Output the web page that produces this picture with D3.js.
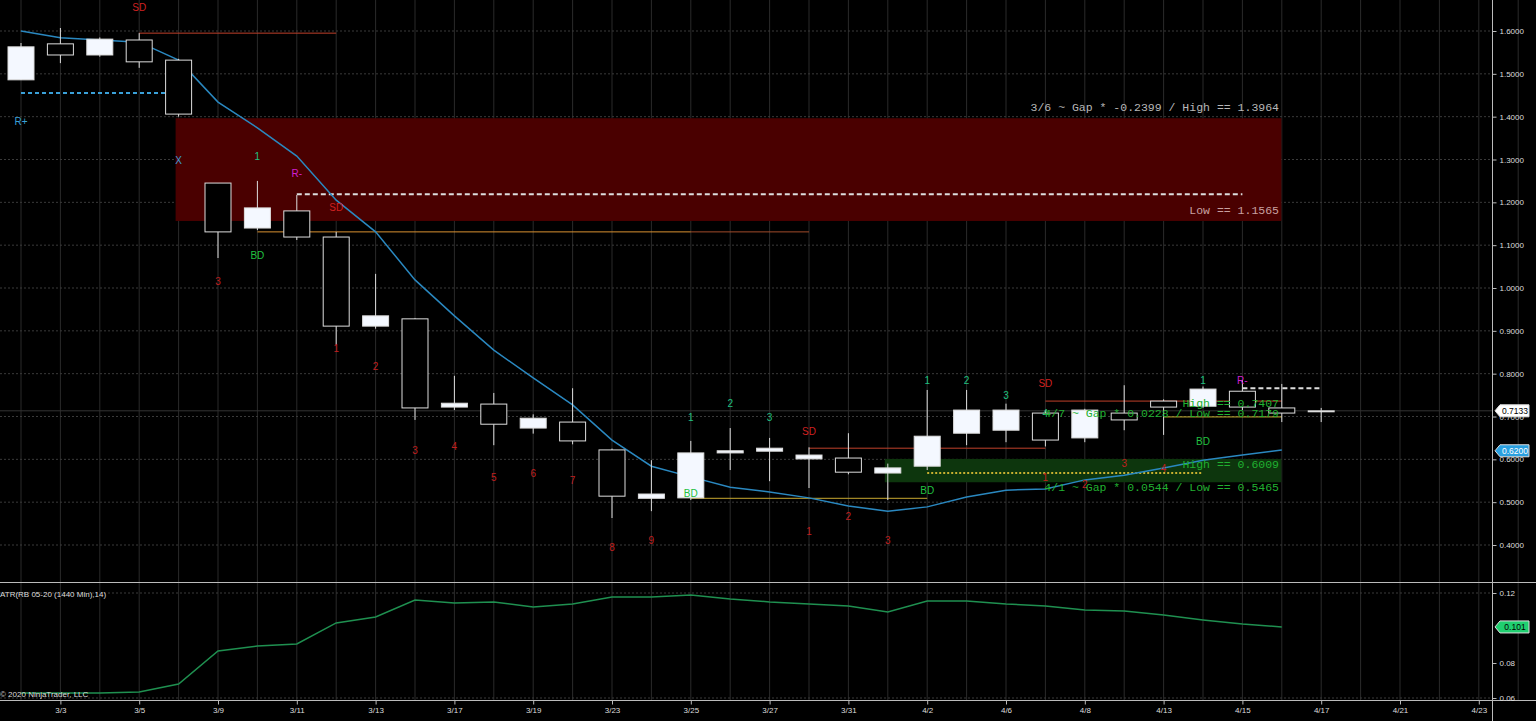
<!DOCTYPE html>
<html>
<head>
<meta charset="utf-8">
<script src="https://cdn.jsdelivr.net/npm/d3@7"></script>
<style>
body{margin:0;background:#000;overflow:hidden}
text{font-family:"Liberation Sans",Arial,sans-serif}
.mono{font-family:"Liberation Mono","DejaVu Sans Mono",monospace}
</style>
</head>
<body>
<div id="chart-area"></div>
<script>
// sessions
var dates = ["3/2","3/3","3/4","3/5","3/6","3/9","3/10","3/11","3/12","3/13","3/16","3/17","3/18","3/19","3/20",
  "3/23","3/24","3/25","3/26","3/27","3/30","3/31","4/1","4/2","4/3","4/6","4/7","4/8","4/9","4/13","4/14","4/15","4/16","4/17",
  "4/20","4/21","4/22","4/23","4/24"];
var opens  = [1.486,1.570,1.544,1.579,1.532,1.245,1.140,1.180,1.119,0.911,0.928,0.722,0.729,0.673,0.687,0.622,0.509,0.510,0.615,0.619,0.601,0.603,0.568,0.584,0.661,0.668,0.708,0.650,0.708,0.736,0.724,0.759,0.720,0.7133];
var closes = [1.563,1.544,1.581,1.528,1.406,1.131,1.187,1.119,0.911,0.935,0.720,0.731,0.682,0.696,0.643,0.514,0.519,0.615,0.620,0.626,0.610,0.570,0.580,0.654,0.715,0.715,0.645,0.715,0.692,0.722,0.764,0.722,0.708,0.7133];
var highs  = [1.572,1.607,1.585,1.595,1.535,1.245,1.250,1.217,1.131,1.033,0.930,0.795,0.755,0.705,0.766,0.625,0.598,0.643,0.673,0.650,0.628,0.661,0.590,0.762,0.762,0.730,0.715,0.718,0.773,0.740,0.770,0.785,0.776,0.720];
var lows   = [1.486,1.525,1.540,1.514,1.400,1.070,1.135,1.112,0.867,0.905,0.692,0.715,0.633,0.660,0.635,0.463,0.479,0.505,0.575,0.549,0.533,0.565,0.505,0.575,0.633,0.640,0.630,0.640,0.668,0.657,0.720,0.715,0.687,0.687];
var maVals = [1.600,1.584,1.579,1.574,1.532,1.434,1.374,1.308,1.205,1.131,1.019,0.935,0.855,0.790,0.727,0.645,0.584,0.559,0.535,0.524,0.510,0.491,0.479,0.489,0.512,0.528,0.531,0.552,0.563,0.580,0.598,0.610,0.622];
var atrVals = [0.0629,0.0629,0.0629,0.0634,0.068,0.0869,0.0897,0.0909,0.1029,0.1063,0.116,0.1143,0.1149,0.112,0.1137,0.1177,0.1177,0.1189,0.1166,0.1149,0.1137,0.1126,0.1091,0.1154,0.1154,0.1137,0.1126,0.1103,0.1097,0.1074,0.1046,0.1023,0.1006];
var priceTicks = [1.6,1.5,1.4,1.3,1.2,1.1,1.0,0.9,0.8,0.7,0.6,0.5,0.4];
var atrTicks = [0.12,0.08,0.06];
var dateTicks = ["3/3","3/5","3/9","3/11","3/13","3/17","3/19","3/23","3/25","3/27","3/31","4/2","4/6","4/8","4/13","4/15","4/17","4/21","4/23"];
// zones: [from, to, high, low, fill]
var zones = [["3/6","4/15",1.3964,1.1565,"#4a0000"],["4/1","4/15",0.6009,0.5465,"#0d360d"]];
// level lines: [from, to, price, color, dash]
var levels = [
  ["3/5","3/12",1.595,"#c0402a",null],
  ["3/2","3/6",1.455,"#3aa0d8","4,3"],
  ["3/11","4/15",1.219,"#dddddd","5,3"],
  ["3/10","3/25",1.131,"#d89030",null],
  ["3/25","3/30",1.131,"#a04a2a",null],
  ["3/30","4/7",0.626,"#c0402a",null],
  ["3/25","4/2",0.509,"#c8a830",null],
  ["4/2","4/14",0.568,"#c8b030","2,2"],
  ["4/7","4/16",0.736,"#c0402a",null],
  ["4/13","4/16",0.699,"#c8b030",null],
  ["4/15","4/17",0.766,"#dddddd","5,3"]];
// signal labels: [date, price, text, color]
var marks = [
  ["3/5",1.647,"SD","#d02020"],["3/12",1.180,"SD","#d02020"],["3/30",0.657,"SD","#d02020"],["4/7",0.768,"SD","#d02020"],
  ["3/2",1.380,"R+","#3aa0d8"],["3/6",1.290,"X","#3aa0d8"],["3/11",1.260,"R-","#d020d0"],["4/15",0.777,"R-","#d020d0"],
  ["3/10",1.067,"BD","#20c040"],["3/25",0.5125,"BD","#20c040"],["4/2",0.5185,"BD","#20c040"],["4/14",0.633,"BD","#20c040"],
  ["3/10",1.300,"1","#20c080"],["3/25",0.6895,"1","#20c080"],["3/26",0.722,"2","#20c080"],["3/27",0.6895,"3","#20c080"],
  ["4/2",0.7755,"1","#20c080"],["4/3",0.7755,"2","#20c080"],["4/6",0.7405,"3","#20c080"],["4/14",0.7765,"1","#20c080"],["4/7",0.700,"4","#20c080"],
  ["3/9",1.008,"3","#c02020"],["3/12",0.8505,"1","#c02020"],["3/13",0.8085,"2","#c02020"],["3/16",0.6125,"3","#c02020"],
  ["3/17",0.6215,"4","#c02020"],["3/18",0.5495,"5","#c02020"],["3/19",0.5585,"6","#c02020"],["3/20",0.542,"7","#c02020"],
  ["3/23",0.3855,"8","#c02020"],["3/24",0.402,"9","#c02020"],["3/30",0.4235,"1","#c02020"],["3/31",0.4585,"2","#c02020"],
  ["4/1",0.4025,"3","#c02020"],["4/7",0.5505,"1","#c02020"],["4/8",0.532,"2","#c02020"],["4/9",0.581,"3","#c02020"],["4/13",0.5705,"4","#c02020"]];
// zone texts: [price, text, color]
var notes = [[1.4125,"3/6 ~ Gap * -0.2399 / High == 1.3964","#b8b8b8"],[1.172,"Low == 1.1565","#c8a0a0"],
  [0.7215,"High == 0.7407","#20b030"],[0.6985,"4/7 ~ Gap * 0.0228 / Low == 0.7179","#20b030"],
  [0.580,"High == 0.6009","#20b030"],[0.527,"4/1 ~ Gap * 0.0544 / Low == 0.5465","#20b030"]];

var W = 1536, H = 721, axisX = 1492;
var svg = d3.select("#chart-area").append("svg").attr("width", W).attr("height", H);
var x = d3.scalePoint().domain(dates).range([21, 21 + 38 * 39.4]);
var y = d3.scaleLinear().domain([0.4, 1.6]).range([545, 31]);
var ya = d3.scaleLinear().domain([0.06, 0.12]).range([698, 593]);

// vertical grid
svg.append("g").selectAll("line").data(dates).enter().append("line")
  .attr("x1", d => x(d)).attr("x2", d => x(d)).attr("y1", 0).attr("y2", 700)
  .attr("stroke", "#2a2a2a").attr("stroke-width", 1);
// horizontal grid
svg.append("g").selectAll("line").data(priceTicks).enter().append("line")
  .attr("x1", 0).attr("x2", axisX).attr("y1", d => y(d)).attr("y2", d => y(d))
  .attr("stroke", "#3a3a3a").attr("stroke-dasharray", "2,2");
svg.append("g").selectAll("line").data([0.12, 0.06]).enter().append("line")
  .attr("x1", 0).attr("x2", axisX).attr("y1", d => ya(d)).attr("y2", d => ya(d))
  .attr("stroke", "#3a3a3a").attr("stroke-dasharray", "2,2");

// zones
svg.append("g").selectAll("rect").data(zones).enter().append("rect")
  .attr("x", d => x(d[0]) - 3).attr("width", d => x(d[1]) - x(d[0]) + 42)
  .attr("y", d => y(d[2])).attr("height", d => y(d[3]) - y(d[2])).attr("fill", d => d[4]);

// levels
svg.append("g").selectAll("line").data(levels).enter().append("line")
  .attr("x1", d => x(d[0])).attr("x2", d => x(d[1])).attr("y1", d => y(d[2])).attr("y2", d => y(d[2]))
  .attr("stroke", d => d[3]).attr("stroke-width", d => d[4] ? 2 : 1).attr("stroke-dasharray", d => d[4]);

// last price line
svg.append("line").attr("x1", 0).attr("x2", axisX).attr("y1", y(0.7133)).attr("y2", y(0.7133)).attr("stroke", "#333");

// MA
svg.append("path").datum(maVals)
  .attr("d", d3.line().x((d, i) => x(dates[i])).y(d => y(d)))
  .attr("fill", "none").attr("stroke", "#2a88c0").attr("stroke-width", 1.5);

// candles
var c = svg.append("g").selectAll("g").data(opens).enter().append("g");
c.append("line").attr("x1", (d, i) => x(dates[i])).attr("x2", (d, i) => x(dates[i]))
  .attr("y1", (d, i) => y(highs[i])).attr("y2", (d, i) => y(lows[i])).attr("stroke", "#ddd");
c.append("rect").attr("x", (d, i) => x(dates[i]) - 13).attr("width", 26)
  .attr("y", (d, i) => y(Math.max(opens[i], closes[i])))
  .attr("height", (d, i) => Math.max(1, Math.abs(y(opens[i]) - y(closes[i]))))
  .attr("fill", (d, i) => closes[i] > opens[i] ? "#f4f8ff" : "#000").attr("stroke", "#ddd");

// markers
svg.append("g").selectAll("text").data(marks).enter().append("text")
  .attr("x", d => x(d[0])).attr("y", d => y(d[1])).attr("text-anchor", "middle")
  .attr("font-size", 10).attr("fill", d => d[3]).text(d => d[2]);

// zone notes
svg.append("g").selectAll("text").data(notes).enter().append("text").attr("class", "mono")
  .attr("x", 1279).attr("y", d => y(d[0])).attr("text-anchor", "end").attr("font-size", 11.5)
  .attr("fill", d => d[2]).text(d => d[1]);

// ATR
svg.append("path").datum(atrVals)
  .attr("d", d3.line().x((d, i) => x(dates[i])).y(d => ya(d)))
  .attr("fill", "none").attr("stroke", "#1f9050").attr("stroke-width", 1.5);
svg.append("text").attr("x", 0).attr("y", 597).attr("font-size", 8).attr("fill", "#ddd").text("ATR(RB 05-20 (1440 Min),14)");
svg.append("text").attr("x", 0).attr("y", 697).attr("font-size", 8).attr("fill", "#ddd").text("© 2020 NinjaTrader, LLC");

// panel separators
svg.append("line").attr("x1", 0).attr("x2", W).attr("y1", 582.5).attr("y2", 582.5).attr("stroke", "#bbb");
svg.append("line").attr("x1", 0).attr("x2", W).attr("y1", 700.5).attr("y2", 700.5).attr("stroke", "#bbb");
svg.append("line").attr("x1", axisX + 0.5).attr("x2", axisX + 0.5).attr("y1", 0).attr("y2", H).attr("stroke", "#bbb");

// axes
function styleAxis(g) {
  g.select(".domain").remove();
  g.selectAll("line").attr("stroke", "#bbb");
  g.selectAll("text").attr("fill", "#ddd").attr("font-size", 8);
}
svg.append("g").attr("transform", "translate(" + (axisX + 0.5) + ",0)")
  .call(d3.axisRight(y).tickValues(priceTicks).tickFormat(d3.format(".4f")).tickSize(4)).call(styleAxis);
svg.append("g").attr("transform", "translate(" + (axisX + 0.5) + ",0)")
  .call(d3.axisRight(ya).tickValues(atrTicks).tickFormat(d => +d.toFixed(2)).tickSize(4)).call(styleAxis);
svg.append("g").attr("transform", "translate(0,700.5)")
  .call(d3.axisBottom(x).tickValues(dateTicks).tickSize(4)).call(styleAxis);

// value tags
function tag(yy, txt, fill, col) {
  var g = svg.append("g").attr("transform", "translate(" + (axisX + 3) + "," + yy + ")");
  g.append("path").attr("d", "M0,0 L5,-6 L34,-6 L34,6 L5,6 Z").attr("fill", fill).attr("stroke", "#ddd");
  g.append("text").attr("x", 20).attr("y", 3).attr("text-anchor", "middle").attr("font-size", 8.5).attr("fill", col).text(txt);
}
tag(y(0.7133), "0.7133", "#fff", "#000");
tag(y(0.62), "0.6200", "#2aa0e0", "#fff");
tag(ya(0.1006), "0.101", "#20d070", "#000");
</script>
</body>
</html>
